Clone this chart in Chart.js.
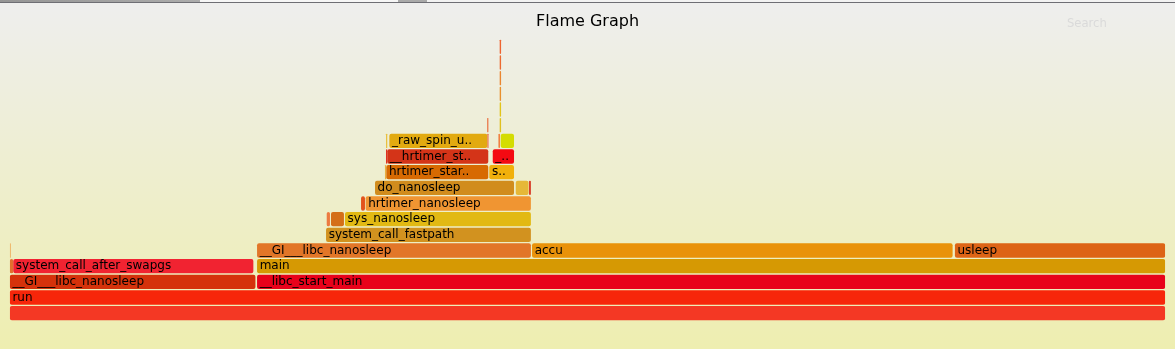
<!DOCTYPE html>
<html>
<head>
<meta charset="utf-8">
<title>Flame Graph</title>
<script src="https://cdn.jsdelivr.net/npm/chart.js@4.4.1/dist/chart.umd.min.js"></script>
<style>
    html, body { margin: 0; padding: 0; overflow: hidden; background: #eeeeee; }
    #wrap { position: relative; width: 1175px; height: 349px; }
    #flame { display: block; }
    #topbar {
        position: absolute; left: 0; top: 0; width: 1175px; height: 2px;
        border-bottom: 1px solid #6e6e74;
        background: linear-gradient(to right, #959595 0px, #acacac 200px, #f6f6f6 200px, #f6f6f6 398px,
                    #a9a9a9 398px, #a9a9a9 427px, #f2f2f2 427px);
    }
</style>
</head>
<body>
<div id="wrap">
    <canvas id="flame" width="1175" height="349"></canvas>
    <div id="topbar"></div>
</div>
<script>
// stack depth rows, 0 = root at the bottom
const depthLabels = ["0", "1", "2", "3", "4", "5", "6", "7", "8", "9", "10", "11", "12", "13", "14", "15", "16", "17"];
const totalSamples = 1000;

// one entry per frame (labels as shown, already truncated)
const frameNames = [
    "", "run",
    "__GI___libc_nanosleep", "__libc_start_main",
    "", "system_call_after_swapgs", "main",
    "", "__GI___libc_nanosleep", "accu", "usleep",
    "system_call_fastpath",
    "", "", "sys_nanosleep",
    "", "hrtimer_nanosleep",
    "do_nanosleep", "", "",
    "", "hrtimer_star..", "s..",
    "", "__hrtimer_st..", "_..",
    "", "_raw_spin_u..", "", "", "",
    "", "",
    "", "", "", "", ""
];
const frameDepth = [
    0, 1,
    2, 2,
    3, 3, 3,
    4, 4, 4, 4,
    5,
    6, 6, 6,
    7, 7,
    8, 8, 8,
    9, 9, 9,
    10, 10, 10,
    11, 11, 11, 11, 11,
    12, 12,
    13, 14, 15, 16, 17
];
const frameStart = [
    0, 0,
    0, 214,
    0, 3.0, 214,
    0, 214, 452, 818,
    273.7,
    274.3, 278, 290.1,
    304, 308,
    316.1, 437.9, 449.4,
    324.7, 325.9, 415,
    325.6, 326.7, 418,
    325.6, 328.5, 413.4, 422.9, 424.9,
    413.2, 424,
    424, 424, 424, 424, 424
];
const frameEnd = [
    1000, 1000,
    212.6, 1000,
    3.0, 210.8, 1000,
    0.9, 451, 816, 1000,
    451,
    277.1, 289.2, 451,
    307.4, 451,
    436.4, 449, 451,
    325.8, 414.1, 436.4,
    326.7, 414.1, 436.4,
    326.7, 413.3, 414.3, 424.3, 436.4,
    414.2, 425.2,
    425.2, 425.2, 425.2, 425.2, 425.2
];

// flame palette, one colour per frame
const frameColors = [
    "#f43824", "#f7260a",
    "#d5320b", "#e8021a",
    "#e2702e", "#f12331", "#d69903",
    "#eeb060", "#e27628", "#e9920a", "#dd6416",
    "#d2921f",
    "#ec7a40", "#d46f18", "#e2b913",
    "#e2521c", "#f09532",
    "#d18c1d", "#e6b838", "#d83a26",
    "#eab040", "#d76a02", "#f1b00c",
    "#e03020", "#d43418", "#f40a12",
    "#e8c040", "#e2aa10", "#e8603a", "#f08040", "#d4dc02",
    "#e86a3a", "#e0c020",
    "#e2c41a", "#e8902e", "#ea8630", "#ec6a30", "#ee6430"
];

const backgroundPlugin = {
    id: "flameBackground",
    beforeDraw(chart) {
        const ctx = chart.ctx;
        const g = ctx.createLinearGradient(0, 0, 0, chart.height);
        g.addColorStop(0, "#eeeeee");
        g.addColorStop(1, "#eeeeb0");
        ctx.save();
        ctx.fillStyle = g;
        ctx.fillRect(0, 0, chart.width, chart.height);
        ctx.restore();
    }
};

const labelPlugin = {
    id: "frameLabels",
    afterDatasetsDraw(chart) {
        const ctx = chart.ctx;
        const bars = chart.getDatasetMeta(0).data;
        ctx.save();
        ctx.fillStyle = "#000000";
        ctx.textBaseline = "alphabetic";
        ctx.font = '12px "DejaVu Sans", Verdana, sans-serif';
        bars.forEach((bar, i) => {
            if (!frameNames[i]) return;
            const left = Math.min(bar.x, bar.base);
            ctx.fillText(frameNames[i], left + 2.6, bar.y + 3.3);
        });

        ctx.textAlign = "center";
        ctx.font = '16px "DejaVu Sans", Verdana, sans-serif';
        ctx.fillText("Flame Graph", 587.5, 26);

        ctx.textAlign = "left";
        ctx.fillStyle = "#dadada";
        ctx.font = '11.6px "DejaVu Sans", Verdana, sans-serif';
        ctx.fillText("Search", 1067, 27);
        ctx.restore();
    }
};

const ctx = document.getElementById("flame").getContext("2d");

new Chart(ctx, {
    type: "bar",
    data: {
        labels: depthLabels,
        datasets: [{
            data: frameNames.map((n, i) => ({ y: String(frameDepth[i]), x: [frameStart[i], frameEnd[i]] })),
            backgroundColor: frameColors,
            borderWidth: 0,
            borderRadius: 2,
            borderSkipped: false,
            inflateAmount: 0,
            categoryPercentage: 1,
            barPercentage: 0.92
        }]
    },
    options: {
        indexAxis: "y",
        responsive: false,
        animation: false,
        devicePixelRatio: 1,
        layout: { padding: { left: 9.8, right: 9.8, top: 39, bottom: 28 } },
        scales: {
            x: { type: "linear", min: 0, max: totalSamples, display: false },
            y: { type: "category", reverse: true, display: false }
        },
        plugins: {
            legend: { display: false },
            title: { display: false },
            tooltip: { enabled: false }
        }
    },
    plugins: [backgroundPlugin, labelPlugin]
});
</script>
</body>
</html>
